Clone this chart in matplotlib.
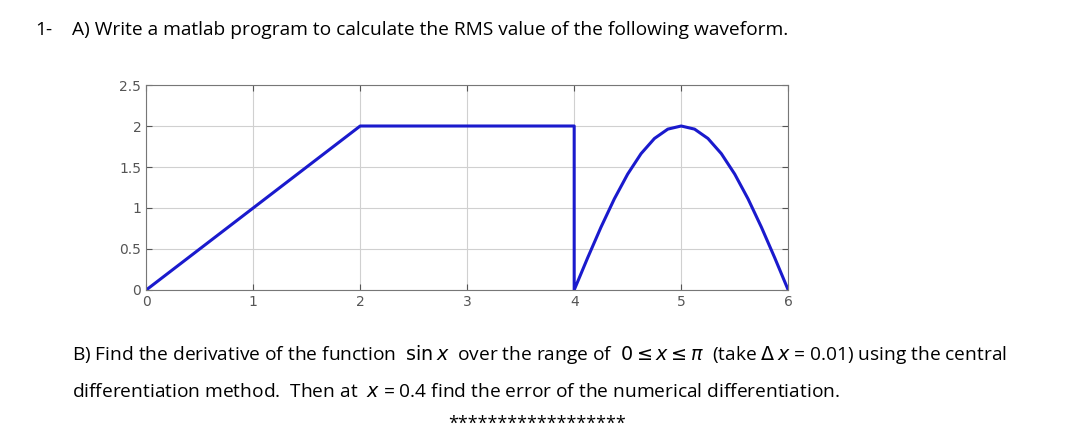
import matplotlib
matplotlib.use("Agg")
import matplotlib.pyplot as plt

x_vals = [0, 2, 4, 4, 4.125, 4.25, 4.375, 4.5, 4.625, 4.75, 4.875, 5,
          5.125, 5.25, 5.375, 5.5, 5.625, 5.75, 5.875, 6]
y_vals = [0, 2, 2, 0, 0.390, 0.765, 1.111, 1.414, 1.663, 1.848, 1.962, 2,
          1.962, 1.848, 1.663, 1.414, 1.111, 0.765, 0.390, 0]
x_ticks = [0, 1, 2, 3, 4, 5, 6]
y_ticks = [0, 0.5, 1, 1.5, 2, 2.5]
y_tick_labels = ["0", "0.5", "1", "1.5", "2", "2.5"]

fig = plt.figure(figsize=(10.67, 4.30), dpi=100)
fig.patch.set_facecolor("white")
ax = fig.add_axes([0.137, 0.3256, 0.6017, 0.4767])
ax.plot(x_vals, y_vals, color="#1a1acd", lw=2.2)
ax.set_xlim(0, 6)
ax.set_ylim(0, 2.5)
ax.set_xticks(x_ticks)
ax.set_yticks(y_ticks)
ax.set_yticklabels(y_tick_labels)
ax.grid(True, color="#d0d0d0", lw=0.8)
ax.tick_params(direction="in", top=True, right=True, colors="#555555",
               labelsize=10, length=4, labelcolor="#555555")
for s in ax.spines.values():
    s.set_color("#777777")
    s.set_linewidth(0.8)

fam = ["Open Sans", "DejaVu Sans"]
fs = 13.8
fig.text(35/1067, 1-30/430, "1-", fontsize=fs, family=fam, va="center")
fig.text(72/1067, 1-30/430, "A) Write a matlab program to calculate the RMS value of the following waveform.",
         fontsize=fs, family=fam, va="center")
fig.text(72/1067, 1-354/430,
         "B) Find the derivative of the function  $\\sin x$  over the range of  $0 \\leq x \\leq \\pi$  (take $\\Delta\\, x$ = 0.01) using the central",
         fontsize=fs, family=fam, va="center")
fig.text(72/1067, 1-392/430,
         "differentiation method.  Then at  $x$ = 0.4 find the error of the numerical differentiation.",
         fontsize=fs, family=fam, va="center")
fig.text(448/1067, 1-424/430, "*" * 18, fontsize=13, family=fam, va="center")
fig.savefig("out.png", dpi=100)
